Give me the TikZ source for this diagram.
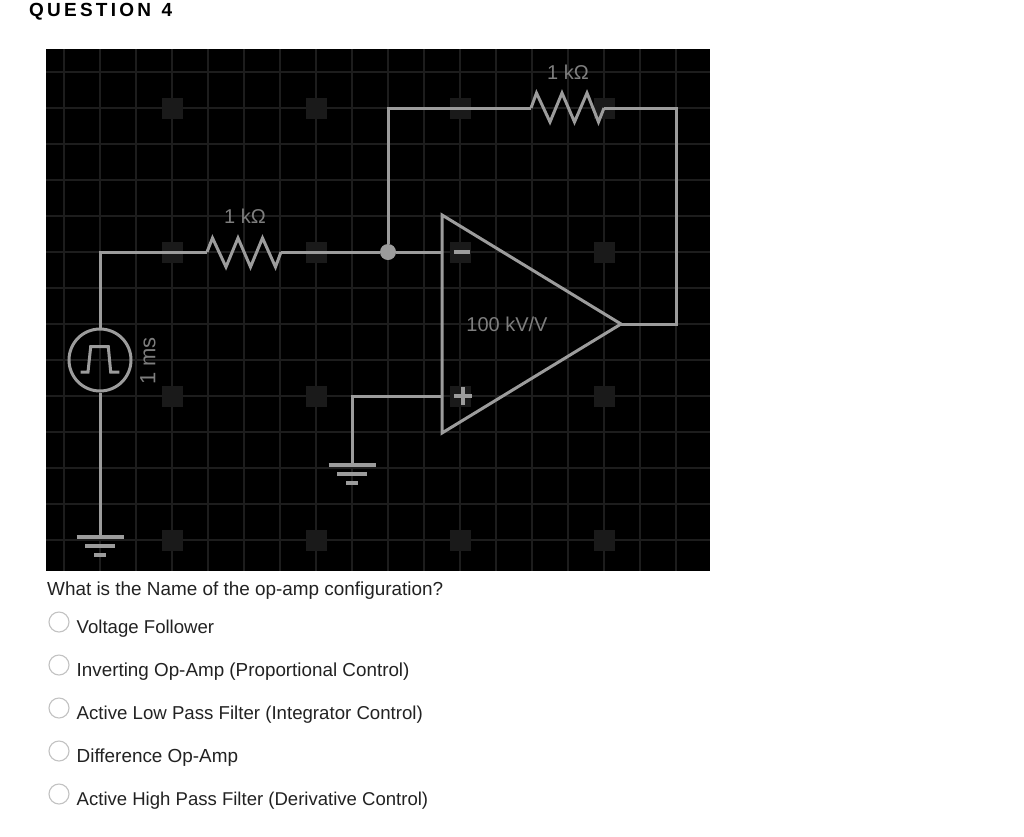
\documentclass[tikz,border=0pt]{standalone}
\usepackage{fontspec}
\usetikzlibrary{calc}
\setmainfont{Liberation Sans}
\newfontfamily\headfont[LetterSpace=17,BoldFont={Liberation Sans Bold}]{Liberation Sans}
\definecolor{wirec}{HTML}{9C9C9C}
\definecolor{gridc}{HTML}{1D1D1D}
\definecolor{padc}{HTML}{1A1A1A}
\definecolor{labc}{HTML}{7E7E7E}
\definecolor{inkc}{HTML}{222222}
\tikzset{
  wire/.style={draw=wirec,line width=3pt,line join=miter},
  gndbar/.style={draw=wirec,line width=3.6pt},
  gridline/.style={draw=gridc,line width=2.6pt},
  pad/.style={fill=padc,draw=none,minimum size=21pt,inner sep=0pt,shape=rectangle},
  lab/.style={text=labc,font=\fontsize{20}{24}\selectfont,inner sep=0pt},
  sym/.style={draw=wirec,line width=3.4pt},
  txt/.style={text=inkc,anchor=west,inner sep=0pt},
  radio/.style={circle,draw=black!24,fill=white,line width=1.1pt,minimum size=20pt,inner sep=0pt},
  srcc/.style={circle,draw=wirec,line width=3pt,minimum size=62pt,inner sep=0pt},
  dotn/.style={circle,fill=wirec,minimum size=16pt,inner sep=0pt}
}
\newcommand{\tsize}[1]{\fontsize{#1}{22}\selectfont}
\begin{document}
\begin{tikzpicture}[x=1pt,y=-1pt]
\useasboundingbox (0,0) rectangle (1024,836);
\fill[white] (0,0) rectangle (1024,836);
\fill[black] (46,49) rectangle (710,571);
\foreach \gx in {64,100,...,676} \draw[gridline] (\gx,49) -- (\gx,571);
\foreach \gy in {72,108,...,540} \draw[gridline] (46,\gy) -- (710,\gy);
\foreach \gx in {172,316,460,604} \foreach \gy in {108,252,396,540} \node[pad] at (\gx,\gy) {};
% named points
\coordinate (corner) at (100,252);
\coordinate (r1a) at (207,252);
\coordinate (r1b) at (281,252);
\coordinate (fbl) at (388,108);
\coordinate (r2a) at (531,108);
\coordinate (r2b) at (604,108);
\coordinate (fbr) at (676,108);
\coordinate (outr) at (676,324);
\coordinate (ampT) at (442,215);
\coordinate (ampB) at (442,433);
\coordinate (ampO) at (621,324);
\coordinate (inm) at (442,252);
\coordinate (inp) at (442,396);
\coordinate (gcorner) at (352,396);
\coordinate (g2) at (352,465);
\coordinate (g1) at (100,537);
\node[dotn] (junc) at (388,252) {};
\node[srcc] (src) at (100,360) {};
% wires
\draw[wire] (src.north) -- (corner) -- (r1a);
\draw[wire] (src.south) -- (g1);
\draw[wire] (r1a) -- ++(5.5,-14) -- ++(13.5,29) -- ++(12,-29) -- ++(12.5,29) -- ++(12,-29) -- ++(13,29) -- (r1b);
\draw[wire] (r1b) -- (junc);
\draw[wire] (junc) -- (inm);
\draw[wire] (junc) -- (fbl) -- (r2a);
\draw[wire] (r2a) -- ++(5.5,-15) -- ++(13.5,29) -- ++(12,-29) -- ++(12.5,29) -- ++(12.5,-29) -- ++(11.5,29) -- (r2b);
\draw[wire] (r2b) -- (fbr) -- (outr) -- (ampO);
\draw[wire] (inp) -- (gcorner) -- (g2);
\draw[wire] (ampT) -- (ampO) -- (ampB) -- cycle;
% op-amp signs
\draw[sym] (454,252) -- (470,252);
\draw[sym] (454,396) -- (472,396) (463,387) -- (463,405);
% pulse
\draw[wire] (80.7,372) -- (88,372) -- (90.7,346.7) -- (108.3,346.7) -- (110.7,372) -- (119.3,372);
% grounds
\draw[gndbar] ($(g1)+(-23.5,0)$) -- ($(g1)+(23.5,0)$);
\draw[gndbar] ($(g1)+(-15,9)$) -- ($(g1)+(15,9)$);
\draw[gndbar] ($(g1)+(-6,18)$) -- ($(g1)+(6,18)$);
\draw[gndbar] ($(g2)+(-23.5,0)$) -- ($(g2)+(23.5,0)$);
\draw[gndbar] ($(g2)+(-15,9)$) -- ($(g2)+(15,9)$);
\draw[gndbar] ($(g2)+(-6,18)$) -- ($(g2)+(6,18)$);
% labels
\node[lab] (lr1) at (245,216) {1 k\symbol{"03A9}};
\node[lab] (lr2) at (568,72) {1 k\symbol{"03A9}};
\node[lab] (lamp) at (507,324) {100 kV/V};
\node[lab,rotate=90,font=\fontsize{22}{24}\selectfont] (lsrc) at (148,361) {1 ms};
% text
\node[anchor=west,inner sep=0pt,text=black,font=\headfont\bfseries\fontsize{19}{20}\selectfont] (head) at (29,11.5) {QUESTION\hspace{2pt} 4};
\node[txt,font=\tsize{18.9}] (q) at (47,591) {What is the Name of the op-amp configuration?};
\node[radio] (c1) at (59,622) {};
\node[radio] (c2) at (59,665) {};
\node[radio] (c3) at (59,708) {};
\node[radio] (c4) at (59,751) {};
\node[radio] (c5) at (59,794) {};
\node[txt,font=\tsize{18.6}] (o1) at (76.5,629) {Voltage Follower};
\node[txt,font=\tsize{18.83}] (o2) at (76.5,672) {Inverting Op-Amp (Proportional Control)};
\node[txt,font=\tsize{18.65}] (o3) at (76.5,715) {Active Low Pass Filter (Integrator Control)};
\node[txt,font=\tsize{18.9}] (o4) at (76.5,758) {Difference Op-Amp};
\node[txt,font=\tsize{18.55}] (o5) at (76.5,801) {Active High Pass Filter (Derivative Control)};
\end{tikzpicture}
\end{document}
